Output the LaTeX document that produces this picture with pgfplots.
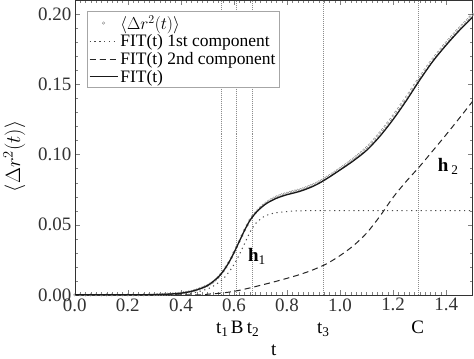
\documentclass[border=0pt]{standalone}
\usepackage{fontspec}
\setmainfont{Liberation Serif}
\usepackage{pgfplots}
\pgfplotsset{compat=1.18}
\usepackage{pgfplotstable}

\pgfplotstableread{
t msd
0.00 0.0000
0.02 0.0000
0.04 0.0000
0.06 0.0000
0.08 0.0000
0.10 0.0000
0.12 0.0000
0.14 0.0000
0.16 0.0000
0.18 0.0000
0.20 0.0000
0.22 0.0000
0.24 0.0001
0.26 0.0001
0.28 0.0001
0.30 0.0002
0.31 0.0002
0.32 0.0003
0.33 0.0003
0.34 0.0004
0.35 0.0005
0.36 0.0006
0.37 0.0007
0.38 0.0009
0.39 0.0010
0.40 0.0012
0.41 0.0015
0.42 0.0018
0.43 0.0021
0.44 0.0025
0.45 0.0030
0.46 0.0036
0.47 0.0043
0.48 0.0050
0.49 0.0058
0.50 0.0066
0.51 0.0078
0.52 0.0090
0.53 0.0106
0.54 0.0124
0.55 0.0146
0.56 0.0170
0.57 0.0198
0.58 0.0229
0.59 0.0264
0.60 0.0301
0.61 0.0341
0.62 0.0381
0.63 0.0421
0.64 0.0461
0.65 0.0498
0.66 0.0532
0.67 0.0560
0.68 0.0584
0.69 0.0604
0.70 0.0622
0.71 0.0639
0.72 0.0654
0.73 0.0667
0.74 0.0679
0.75 0.0689
0.76 0.0698
0.77 0.0706
0.78 0.0713
0.79 0.0719
0.80 0.0725
0.81 0.0730
0.82 0.0735
0.83 0.0740
0.84 0.0745
0.85 0.0750
0.86 0.0756
0.87 0.0763
0.88 0.0771
0.89 0.0779
0.90 0.0787
0.91 0.0796
0.92 0.0806
0.93 0.0816
0.94 0.0827
0.95 0.0838
0.96 0.0850
0.97 0.0862
0.98 0.0875
0.99 0.0888
1.00 0.0900
1.01 0.0913
1.02 0.0927
1.03 0.0941
1.04 0.0955
1.05 0.0969
1.06 0.0984
1.07 0.0999
1.08 0.1015
1.09 0.1032
1.10 0.1050
1.11 0.1069
1.12 0.1089
1.13 0.1110
1.14 0.1132
1.15 0.1154
1.16 0.1177
1.17 0.1201
1.18 0.1225
1.19 0.1250
1.20 0.1275
1.21 0.1301
1.22 0.1328
1.23 0.1355
1.24 0.1382
1.25 0.1410
1.26 0.1438
1.27 0.1466
1.28 0.1494
1.29 0.1522
1.30 0.1550
1.31 0.1577
1.32 0.1604
1.33 0.1630
1.34 0.1656
1.35 0.1681
1.36 0.1705
1.37 0.1729
1.38 0.1752
1.39 0.1775
1.40 0.1797
1.41 0.1819
1.42 0.1840
1.43 0.1861
1.44 0.1882
1.45 0.1902
1.46 0.1922
1.47 0.1942
1.48 0.1961
1.49 0.1980
1.50 0.1998
}\msd

\pgfplotstableread{
t c1
0.00 0.0000
0.30 0.0001
0.40 0.0006
0.45 0.0015
0.50 0.0042
0.52 0.0060
0.54 0.0085
0.56 0.0115
0.58 0.0160
0.60 0.0215
0.62 0.0285
0.64 0.0365
0.66 0.0445
0.68 0.0505
0.70 0.0540
0.72 0.0565
0.75 0.0582
0.80 0.0594
0.85 0.0599
0.90 0.0600
1.20 0.0600
1.50 0.0600
}\compone

\pgfplotstableread{
t c2
0.00 0.0000
0.45 0.0000
0.50 0.0005
0.55 0.0012
0.60 0.0025
0.65 0.0045
0.70 0.0068
0.75 0.0092
0.80 0.0118
0.85 0.0146
0.90 0.0180
0.95 0.0222
1.00 0.0280
1.05 0.0350
1.10 0.0440
1.15 0.0560
1.20 0.0695
1.25 0.0810
1.30 0.0915
1.35 0.1028
1.40 0.1142
1.45 0.1260
1.50 0.1380
}\comptwo

\pgfplotstableread{
t fit
0.00 0.0000
0.20 0.0000
0.25 0.0001
0.30 0.0002
0.35 0.0005
0.40 0.0012
0.45 0.0030
0.50 0.0066
0.54 0.0125
0.56 0.0170
0.58 0.0228
0.60 0.0300
0.62 0.0380
0.64 0.0460
0.66 0.0530
0.68 0.0580
0.70 0.0618
0.72 0.0648
0.74 0.0670
0.76 0.0688
0.78 0.0702
0.80 0.0714
0.83 0.0728
0.86 0.0745
0.90 0.0775
0.93 0.0805
0.96 0.0840
1.00 0.0890
1.05 0.0955
1.10 0.1030
1.15 0.1130
1.20 0.1250
1.25 0.1385
1.30 0.1530
1.35 0.1665
1.40 0.1780
1.45 0.1885
1.50 0.1980
}\fit

\begin{document}
\begin{tikzpicture}
\begin{axis}[
  width=397bp, height=294bp, scale only axis,
  xmin=0, xmax=1.5, ymin=0, ymax=0.21,
  xtick={0,0.2,0.4,0.6,0.8,1.0,1.2,1.4},
  ytick={0,0.05,0.10,0.15,0.20},
  minor x tick num=9, minor y tick num=4,
  tick align=inside,
  major tick length=5bp, minor tick length=3bp,
  /pgf/number format/assume math mode=true,
  xticklabel style={/pgf/number format/.cd, fixed, fixed zerofill, precision=1},
  yticklabel style={/pgf/number format/.cd, fixed, fixed zerofill, precision=2},
  tick label style={font=\fontsize{19}{21}\selectfont, text=black!80},
  xlabel={t},
  xlabel style={font=\fontsize{19}{21}\selectfont, at={(axis description cs:0.5,0)}, anchor=base, yshift=-60bp},
  ylabel={$\langle \Delta r^2(t)\rangle$},
  ylabel style={font=\fontsize{22}{26}\selectfont, at={(axis description cs:-0.152,0.47)}, anchor=center},
  legend style={at={(0.03,0.963)}, anchor=north west, draw=black!35, fill=white,
    font=\fontsize{17.5}{20}\selectfont, inner sep=2bp, row sep=0bp},
  legend image code/.code={\draw[mark repeat=2,mark phase=2,#1] plot coordinates {(0bp,0bp) (14bp,0bp) (28bp,0bp)};},
  legend cell align=left,
  axis line style={black!80},
  clip mode=individual,
]
% vertical reference lines
\addplot[forget plot, black!45, line width=0.5bp, dash pattern=on 1bp off 1bp] coordinates {(0.554,0) (0.554,0.21)};
\addplot[forget plot, black!45, line width=0.5bp, dash pattern=on 1bp off 1bp] coordinates {(0.610,0) (0.610,0.21)};
\addplot[forget plot, black!45, line width=0.5bp, dash pattern=on 1bp off 1bp] coordinates {(0.670,0) (0.670,0.21)};
\addplot[forget plot, black!45, line width=0.5bp, dash pattern=on 1bp off 1bp] coordinates {(0.935,0) (0.935,0.21)};
\addplot[forget plot, black!45, line width=0.5bp, dash pattern=on 1bp off 1bp] coordinates {(1.293,0) (1.293,0.21)};

\addplot[only marks, mark=o, mark size=1.3bp, black!45, line width=0.4bp] table[x=t, y=msd] {\msd};
\addlegendentry{$\langle \Delta r^2(t)\rangle$}
\addplot[black!70, line width=1bp, dash pattern=on 1.2bp off 3.6bp, smooth] table[x=t, y=c1] {\compone};
\addlegendentry{FIT(t) 1st component}
\addplot[black!85, line width=1bp, dash pattern=on 6bp off 4bp, smooth] table[x=t, y=c2] {\comptwo};
\addlegendentry{FIT(t) 2nd component}
\addplot[black!90, line width=1.3bp, smooth] table[x=t, y=fit] {\fit};
\addlegendentry{FIT(t)}

\node[font=\fontsize{19}{21}\selectfont, anchor=base west] at (axis cs:0.64,0.024) {\textbf{h}\textsubscript{1}};
\node[font=\fontsize{19}{21}\selectfont, anchor=base west] at (axis cs:1.355,0.088) {\textbf{h}\,\textsubscript{2}};

\node[font=\fontsize{19}{21}\selectfont, anchor=base] at (axis cs:0.556,0) [yshift=-39bp] {t\textsubscript{1}};
\node[font=\fontsize{19}{21}\selectfont, anchor=base] at (axis cs:0.612,0) [yshift=-39bp] {B};
\node[font=\fontsize{19}{21}\selectfont, anchor=base] at (axis cs:0.672,0) [yshift=-39bp] {t\textsubscript{2}};
\node[font=\fontsize{19}{21}\selectfont, anchor=base] at (axis cs:0.937,0) [yshift=-39bp] {t\textsubscript{3}};
\node[font=\fontsize{19}{21}\selectfont, anchor=base] at (axis cs:1.293,0) [yshift=-39bp] {C};
\end{axis}
\end{tikzpicture}
\end{document}
